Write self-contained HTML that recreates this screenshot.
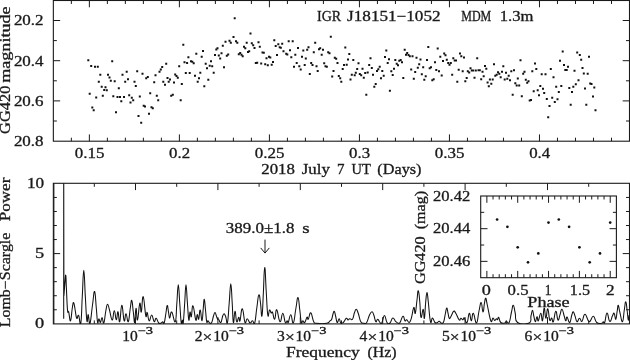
<!DOCTYPE html>
<html lang="en"><head><meta charset="utf-8"><title>IGR J18151-1052 light curve and periodogram</title>
<style>
html,body{margin:0;padding:0;background:#fff;}
body{width:630px;height:360px;overflow:hidden;}
svg{display:block;}
text{font-family:"Liberation Serif", "DejaVu Serif", serif;font-size:14.0px;fill:#1a1a1a;stroke:#1a1a1a;stroke-width:0.3px;}
.ln{stroke:#1a1a1a;stroke-width:1;fill:none;}
.fr{stroke:#1a1a1a;stroke-width:1.1;fill:none;}
.pt{fill:#111;}
.pg{stroke:#111;stroke-width:1.05;fill:none;stroke-linejoin:round;}
</style></head><body>
<svg width="630" height="360" viewBox="0 0 630 360">
<rect width="630" height="360" fill="#fff"/>
<rect class="fr" x="53.35" y="0.5" width="576.15" height="140.7"/>
<path class="ln" d="M71.35 141.2v-3.5M71.35 0.5v3.5M89.36 141.2v-6.8M89.36 0.5v6.8M107.36 141.2v-3.5M107.36 0.5v3.5M125.37 141.2v-3.5M125.37 0.5v3.5M143.37 141.2v-3.5M143.37 0.5v3.5M161.38 141.2v-3.5M161.38 0.5v3.5M179.38 141.2v-6.8M179.38 0.5v6.8M197.39 141.2v-3.5M197.39 0.5v3.5M215.39 141.2v-3.5M215.39 0.5v3.5M233.40 141.2v-3.5M233.40 0.5v3.5M251.40 141.2v-3.5M251.40 0.5v3.5M269.41 141.2v-6.8M269.41 0.5v6.8M287.41 141.2v-3.5M287.41 0.5v3.5M305.42 141.2v-3.5M305.42 0.5v3.5M323.42 141.2v-3.5M323.42 0.5v3.5M341.42 141.2v-3.5M341.42 0.5v3.5M359.43 141.2v-6.8M359.43 0.5v6.8M377.43 141.2v-3.5M377.43 0.5v3.5M395.44 141.2v-3.5M395.44 0.5v3.5M413.44 141.2v-3.5M413.44 0.5v3.5M431.45 141.2v-3.5M431.45 0.5v3.5M449.45 141.2v-6.8M449.45 0.5v6.8M467.46 141.2v-3.5M467.46 0.5v3.5M485.46 141.2v-3.5M485.46 0.5v3.5M503.47 141.2v-3.5M503.47 0.5v3.5M521.47 141.2v-3.5M521.47 0.5v3.5M539.48 141.2v-6.8M539.48 0.5v6.8M557.48 141.2v-3.5M557.48 0.5v3.5M575.49 141.2v-3.5M575.49 0.5v3.5M593.49 141.2v-3.5M593.49 0.5v3.5M611.50 141.2v-3.5M611.50 0.5v3.5M53.35 20.50h6.8M629.5 20.50h-6.8M53.35 40.60h3.5M629.5 40.60h-3.5M53.35 60.70h6.8M629.5 60.70h-6.8M53.35 80.80h3.5M629.5 80.80h-3.5M53.35 100.90h6.8M629.5 100.90h-6.8M53.35 121.00h3.5M629.5 121.00h-3.5"/>
<path class="pt" d="M87.3 59.3h2v2h-2zM88.7 92.8h2v2h-2zM90.2 65.0h2v2h-2zM91.3 106.5h2v2h-2zM92.7 109.2h2v2h-2zM94.0 65.8h2v2h-2zM95.2 96.5h2v2h-2zM96.8 65.8h2v2h-2zM97.8 80.7h2v2h-2zM99.3 73.7h2v2h-2zM100.7 85.7h2v2h-2zM101.8 94.7h2v2h-2zM103.2 89.0h2v2h-2zM104.5 86.2h2v2h-2zM105.8 89.3h2v2h-2zM107.0 73.7h2v2h-2zM108.5 76.5h2v2h-2zM109.8 79.7h2v2h-2zM111.2 60.3h2v2h-2zM112.3 95.2h2v2h-2zM113.7 80.3h2v2h-2zM115.0 111.2h2v2h-2zM116.5 96.0h2v2h-2zM117.8 87.2h2v2h-2zM119.0 96.0h2v2h-2zM120.3 100.2h2v2h-2zM121.5 73.7h2v2h-2zM123.0 96.0h2v2h-2zM124.2 80.8h2v2h-2zM125.7 70.8h2v2h-2zM127.0 78.2h2v2h-2zM128.2 94.2h2v2h-2zM129.5 101.5h2v2h-2zM130.8 96.7h2v2h-2zM132.2 99.3h2v2h-2zM133.5 80.7h2v2h-2zM134.8 85.0h2v2h-2zM136.2 70.2h2v2h-2zM137.5 115.0h2v2h-2zM138.8 95.5h2v2h-2zM140.2 121.7h2v2h-2zM141.5 72.7h2v2h-2zM142.7 104.7h2v2h-2zM144.0 105.5h2v2h-2zM145.2 77.3h2v2h-2zM146.8 76.0h2v2h-2zM148.0 112.7h2v2h-2zM149.2 92.3h2v2h-2zM150.5 106.2h2v2h-2zM151.8 107.3h2v2h-2zM153.2 81.2h2v2h-2zM154.5 74.3h2v2h-2zM155.8 94.7h2v2h-2zM157.2 99.2h2v2h-2zM158.5 70.7h2v2h-2zM159.8 68.4h2v2h-2zM161.2 66.0h2v2h-2zM162.3 80.7h2v2h-2zM164.0 83.7h2v2h-2zM165.2 62.7h2v2h-2zM166.5 77.0h2v2h-2zM167.7 80.7h2v2h-2zM169.0 78.5h2v2h-2zM170.2 94.8h2v2h-2zM171.8 93.8h2v2h-2zM173.0 81.5h2v2h-2zM174.2 73.5h2v2h-2zM175.5 75.0h2v2h-2zM176.8 76.7h2v2h-2zM178.2 65.2h2v2h-2zM179.7 99.3h2v2h-2zM180.8 83.0h2v2h-2zM182.3 43.7h2v2h-2zM183.5 61.3h2v2h-2zM184.8 71.9h2v2h-2zM186.1 62.0h2v2h-2zM187.4 56.3h2v2h-2zM188.7 72.0h2v2h-2zM190.0 60.3h2v2h-2zM191.3 60.7h2v2h-2zM192.7 62.3h2v2h-2zM194.0 74.7h2v2h-2zM195.3 52.7h2v2h-2zM196.7 80.7h2v2h-2zM198.0 77.3h2v2h-2zM199.3 71.7h2v2h-2zM200.7 55.7h2v2h-2zM202.0 50.0h2v2h-2zM203.3 85.3h2v2h-2zM204.7 62.8h2v2h-2zM206.0 67.3h2v2h-2zM207.3 78.7h2v2h-2zM208.7 64.8h2v2h-2zM210.0 60.3h2v2h-2zM211.2 65.3h2v2h-2zM212.7 71.7h2v2h-2zM214.0 54.0h2v2h-2zM215.3 48.5h2v2h-2zM216.5 47.3h2v2h-2zM217.8 54.5h2v2h-2zM219.2 57.5h2v2h-2zM220.5 52.3h2v2h-2zM221.8 44.8h2v2h-2zM223.0 66.2h2v2h-2zM224.5 40.7h2v2h-2zM225.8 54.8h2v2h-2zM227.2 53.5h2v2h-2zM228.5 39.8h2v2h-2zM229.8 41.7h2v2h-2zM232.5 36.0h2v2h-2zM233.7 17.3h2v2h-2zM235.0 40.2h2v2h-2zM236.3 41.7h2v2h-2zM237.8 53.2h2v2h-2zM239.2 52.0h2v2h-2zM240.5 53.7h2v2h-2zM241.7 55.3h2v2h-2zM243.0 45.7h2v2h-2zM244.3 47.3h2v2h-2zM245.7 41.7h2v2h-2zM247.0 51.0h2v2h-2zM248.2 50.2h2v2h-2zM249.5 32.5h2v2h-2zM250.8 42.3h2v2h-2zM252.2 44.2h2v2h-2zM253.5 47.0h2v2h-2zM254.8 62.0h2v2h-2zM256.2 61.7h2v2h-2zM257.5 41.2h2v2h-2zM258.8 45.8h2v2h-2zM260.2 62.5h2v2h-2zM261.5 51.5h2v2h-2zM262.8 51.8h2v2h-2zM264.2 63.3h2v2h-2zM265.5 57.3h2v2h-2zM266.8 64.2h2v2h-2zM268.0 55.7h2v2h-2zM269.3 56.5h2v2h-2zM270.7 63.7h2v2h-2zM272.0 61.0h2v2h-2zM273.3 39.2h2v2h-2zM274.7 45.0h2v2h-2zM276.0 54.0h2v2h-2zM277.3 43.2h2v2h-2zM278.7 46.3h2v2h-2zM279.8 46.8h2v2h-2zM281.2 42.8h2v2h-2zM282.5 50.3h2v2h-2zM285.2 52.7h2v2h-2zM286.3 53.5h2v2h-2zM287.7 40.3h2v2h-2zM289.0 49.3h2v2h-2zM290.3 56.2h2v2h-2zM291.7 40.2h2v2h-2zM293.0 65.7h2v2h-2zM294.3 53.7h2v2h-2zM295.7 62.0h2v2h-2zM297.0 47.0h2v2h-2zM298.3 65.3h2v2h-2zM299.7 68.5h2v2h-2zM301.0 55.8h2v2h-2zM302.3 49.5h2v2h-2zM303.7 64.0h2v2h-2zM304.8 57.5h2v2h-2zM306.2 48.7h2v2h-2zM307.5 46.2h2v2h-2zM308.8 73.0h2v2h-2zM310.2 62.0h2v2h-2zM311.5 64.0h2v2h-2zM312.8 51.2h2v2h-2zM314.2 41.7h2v2h-2zM315.5 65.2h2v2h-2zM316.7 70.0h2v2h-2zM318.0 48.3h2v2h-2zM319.2 47.2h2v2h-2zM320.7 53.7h2v2h-2zM322.0 48.7h2v2h-2zM323.2 62.3h2v2h-2zM324.5 65.3h2v2h-2zM325.8 65.7h2v2h-2zM327.2 51.2h2v2h-2zM328.5 52.3h2v2h-2zM329.8 35.7h2v2h-2zM331.2 75.5h2v2h-2zM332.5 70.0h2v2h-2zM333.8 56.8h2v2h-2zM335.2 57.8h2v2h-2zM336.5 62.0h2v2h-2zM337.8 75.0h2v2h-2zM339.2 77.3h2v2h-2zM340.3 80.8h2v2h-2zM341.7 67.9h2v2h-2zM343.0 64.0h2v2h-2zM344.3 46.5h2v2h-2zM345.7 63.7h2v2h-2zM347.0 58.5h2v2h-2zM348.3 53.0h2v2h-2zM349.5 78.5h2v2h-2zM350.8 73.7h2v2h-2zM352.3 59.0h2v2h-2zM353.7 74.3h2v2h-2zM354.8 71.8h2v2h-2zM356.2 67.9h2v2h-2zM357.5 62.3h2v2h-2zM358.8 73.0h2v2h-2zM360.2 74.3h2v2h-2zM361.5 67.7h2v2h-2zM362.8 76.8h2v2h-2zM364.2 72.0h2v2h-2zM365.3 93.7h2v2h-2zM366.7 71.5h2v2h-2zM368.2 64.0h2v2h-2zM369.5 57.3h2v2h-2zM370.8 67.0h2v2h-2zM372.0 73.8h2v2h-2zM373.3 85.7h2v2h-2zM374.7 83.0h2v2h-2zM376.0 70.0h2v2h-2zM377.3 68.2h2v2h-2zM378.7 65.7h2v2h-2zM380.0 77.3h2v2h-2zM381.3 70.0h2v2h-2zM382.7 74.7h2v2h-2zM384.0 56.0h2v2h-2zM385.3 49.5h2v2h-2zM386.7 62.0h2v2h-2zM388.0 58.2h2v2h-2zM388.9 89.7h2v2h-2zM390.3 70.2h2v2h-2zM391.7 74.0h2v2h-2zM393.0 67.8h2v2h-2zM394.3 59.0h2v2h-2zM395.7 62.8h2v2h-2zM397.0 64.3h2v2h-2zM398.3 59.8h2v2h-2zM399.7 59.0h2v2h-2zM401.0 61.2h2v2h-2zM402.3 77.0h2v2h-2zM403.7 48.8h2v2h-2zM405.0 53.7h2v2h-2zM406.2 52.0h2v2h-2zM407.5 54.0h2v2h-2zM408.8 55.3h2v2h-2zM410.2 68.5h2v2h-2zM411.5 55.2h2v2h-2zM412.8 77.7h2v2h-2zM414.2 71.0h2v2h-2zM415.5 56.7h2v2h-2zM416.8 66.7h2v2h-2zM418.2 63.2h2v2h-2zM419.5 58.5h2v2h-2zM420.8 73.2h2v2h-2zM422.2 66.3h2v2h-2zM423.3 78.7h2v2h-2zM424.7 75.3h2v2h-2zM426.0 59.0h2v2h-2zM427.3 46.0h2v2h-2zM428.7 67.3h2v2h-2zM430.0 66.3h2v2h-2zM431.3 79.3h2v2h-2zM432.7 78.2h2v2h-2zM434.0 61.3h2v2h-2zM435.3 69.0h2v2h-2zM436.7 47.5h2v2h-2zM438.0 70.2h2v2h-2zM439.3 55.7h2v2h-2zM440.7 74.5h2v2h-2zM442.0 60.0h2v2h-2zM443.2 52.5h2v2h-2zM444.5 54.3h2v2h-2zM445.8 58.7h2v2h-2zM447.2 62.0h2v2h-2zM448.5 63.7h2v2h-2zM449.8 62.0h2v2h-2zM451.2 73.7h2v2h-2zM452.3 57.3h2v2h-2zM453.7 59.5h2v2h-2zM455.0 59.5h2v2h-2zM456.3 80.7h2v2h-2zM457.7 68.7h2v2h-2zM459.0 52.5h2v2h-2zM460.3 55.2h2v2h-2zM461.7 70.2h2v2h-2zM463.0 56.5h2v2h-2zM464.3 80.3h2v2h-2zM465.7 77.0h2v2h-2zM466.8 70.2h2v2h-2zM468.2 71.5h2v2h-2zM469.5 67.3h2v2h-2zM470.8 69.5h2v2h-2zM472.2 69.5h2v2h-2zM473.5 76.7h2v2h-2zM474.8 69.5h2v2h-2zM476.2 57.3h2v2h-2zM477.5 69.3h2v2h-2zM478.8 69.3h2v2h-2zM480.2 78.3h2v2h-2zM481.5 70.7h2v2h-2zM482.7 75.3h2v2h-2zM484.0 65.0h2v2h-2zM485.3 67.8h2v2h-2zM486.6 81.5h2v2h-2zM487.8 85.3h2v2h-2zM488.9 78.4h2v2h-2zM490.3 82.7h2v2h-2zM491.7 78.5h2v2h-2zM493.0 63.3h2v2h-2zM494.3 74.8h2v2h-2zM495.7 73.7h2v2h-2zM497.0 71.2h2v2h-2zM498.3 72.7h2v2h-2zM499.7 76.3h2v2h-2zM501.0 70.7h2v2h-2zM502.3 65.3h2v2h-2zM503.7 78.5h2v2h-2zM505.0 71.8h2v2h-2zM506.3 77.7h2v2h-2zM507.7 74.8h2v2h-2zM509.0 79.2h2v2h-2zM510.3 70.2h2v2h-2zM511.7 93.7h2v2h-2zM513.0 69.2h2v2h-2zM514.3 82.3h2v2h-2zM515.7 84.5h2v2h-2zM516.8 77.5h2v2h-2zM518.2 84.5h2v2h-2zM519.5 59.2h2v2h-2zM520.8 95.3h2v2h-2zM522.2 72.8h2v2h-2zM523.5 70.8h2v2h-2zM524.8 78.7h2v2h-2zM526.2 81.8h2v2h-2zM527.5 80.3h2v2h-2zM528.7 99.5h2v2h-2zM530.0 99.0h2v2h-2zM531.3 70.3h2v2h-2zM532.7 90.3h2v2h-2zM534.0 62.5h2v2h-2zM535.3 68.0h2v2h-2zM536.7 89.3h2v2h-2zM538.0 94.3h2v2h-2zM539.3 85.0h2v2h-2zM540.7 73.3h2v2h-2zM542.0 87.7h2v2h-2zM543.2 92.0h2v2h-2zM544.5 73.3h2v2h-2zM545.8 98.0h2v2h-2zM547.2 116.3h2v2h-2zM548.5 105.0h2v2h-2zM549.8 68.0h2v2h-2zM551.2 96.7h2v2h-2zM552.5 76.2h2v2h-2zM553.8 101.0h2v2h-2zM555.2 85.8h2v2h-2zM556.5 98.3h2v2h-2zM557.8 91.0h2v2h-2zM559.0 59.7h2v2h-2zM560.3 85.0h2v2h-2zM561.7 50.5h2v2h-2zM563.0 64.0h2v2h-2zM564.3 69.0h2v2h-2zM565.7 69.0h2v2h-2zM567.0 65.8h2v2h-2zM568.3 87.0h2v2h-2zM569.7 103.8h2v2h-2zM571.0 91.0h2v2h-2zM572.3 85.7h2v2h-2zM573.5 69.7h2v2h-2zM574.8 83.3h2v2h-2zM576.2 51.5h2v2h-2zM577.5 79.2h2v2h-2zM578.8 54.0h2v2h-2zM580.2 58.7h2v2h-2zM581.5 67.0h2v2h-2zM582.8 72.4h2v2h-2zM584.0 87.4h2v2h-2zM585.3 103.8h2v2h-2zM586.7 72.8h2v2h-2zM588.0 55.8h2v2h-2zM589.2 82.4h2v2h-2zM590.5 83.0h2v2h-2zM592.0 95.5h2v2h-2zM593.3 86.5h2v2h-2zM594.5 109.3h2v2h-2z"/>
<text x="13.9" y="25.3" textLength="29.7" lengthAdjust="spacingAndGlyphs">20.2</text>
<text x="13.9" y="65.5" textLength="29.7" lengthAdjust="spacingAndGlyphs">20.4</text>
<text x="13.9" y="105.7" textLength="29.7" lengthAdjust="spacingAndGlyphs">20.6</text>
<text x="13.9" y="145.9" textLength="29.7" lengthAdjust="spacingAndGlyphs">20.8</text>
<text x="74.7" y="158.3" textLength="29.7" lengthAdjust="spacingAndGlyphs">0.15</text>
<text x="169.1" y="158.3" textLength="21.0" lengthAdjust="spacingAndGlyphs">0.2</text>
<text x="254.8" y="158.3" textLength="29.7" lengthAdjust="spacingAndGlyphs">0.25</text>
<text x="349.1" y="158.3" textLength="21.0" lengthAdjust="spacingAndGlyphs">0.3</text>
<text x="434.8" y="158.3" textLength="29.7" lengthAdjust="spacingAndGlyphs">0.35</text>
<text x="529.2" y="158.3" textLength="21.0" lengthAdjust="spacingAndGlyphs">0.4</text>
<text y="174.3"><tspan x="261.3" textLength="33.6" lengthAdjust="spacingAndGlyphs">2018</tspan> <tspan x="301.8" textLength="28.1" lengthAdjust="spacingAndGlyphs">July</tspan> <tspan x="337.0" textLength="7.5" lengthAdjust="spacingAndGlyphs">7</tspan> <tspan x="351.5" textLength="19.1" lengthAdjust="spacingAndGlyphs">UT</tspan> <tspan x="377.3" textLength="44.2" lengthAdjust="spacingAndGlyphs">(Days)</tspan></text>
<text transform="translate(10.4,0) rotate(-90)" y="0"><tspan x="-133.9" textLength="48.3" lengthAdjust="spacingAndGlyphs">GG420</tspan> <tspan x="-82.8" textLength="76.4" lengthAdjust="spacingAndGlyphs">magnitude</tspan></text>
<text y="20.7"><tspan x="317.1" textLength="24.1" lengthAdjust="spacingAndGlyphs">IGR</tspan> <tspan x="347.1" textLength="93.5" lengthAdjust="spacingAndGlyphs">J18151&#8722;1052</tspan> <tspan x="461.3" textLength="30.0" lengthAdjust="spacingAndGlyphs">MDM</tspan> <tspan x="499.8" textLength="33.7" lengthAdjust="spacingAndGlyphs">1.3m</tspan></text>
<clipPath id="c2"><rect x="53.35" y="183.3" width="576.15" height="140.59999999999997"/></clipPath>
<path class="pg" clip-path="url(#c2)" d="M63.7 318.7L63.7 150L63.9 296L63.9 296.0C64.1 293.0 64.5 287.8 64.9 283.0C65.3 278.2 65.5 274.1 65.8 275.3C66.1 276.5 66.0 279.9 66.4 288.0C66.8 296.1 67.0 304.4 67.5 310.0C68.0 315.6 68.0 309.5 68.7 312.0C69.4 314.5 69.7 321.7 70.5 320.8C71.3 319.9 71.6 312.3 72.3 308.0C73.0 303.7 73.0 302.3 73.6 302.5C74.2 302.7 74.3 305.3 75.0 309.0C75.7 312.7 75.9 316.8 76.7 318.3C77.5 319.8 77.6 314.3 78.6 315.4C79.6 316.5 79.9 327.7 80.8 323.2C81.7 318.7 81.6 308.3 82.3 296.0C83.0 283.7 83.1 270.3 83.8 270.3C84.5 270.3 84.6 284.2 85.3 296.0C86.0 307.8 86.2 316.4 86.9 320.8C87.6 325.2 87.5 314.1 88.2 314.7C88.9 315.3 89.0 325.5 90.0 323.2C91.0 320.9 91.4 312.4 92.5 305.0C93.6 297.6 93.7 290.8 94.6 291.5C95.5 292.2 95.6 300.8 96.3 308.0C97.0 315.2 97.0 320.0 97.6 322.5C98.2 325.0 98.2 318.7 98.9 318.7C99.6 318.7 99.7 322.8 100.4 322.5C101.1 322.2 101.3 317.4 102.1 317.5C102.9 317.6 102.9 324.5 103.8 323.0C104.7 321.5 104.9 315.4 105.8 311.0C106.7 306.6 106.6 304.5 107.5 304.3C108.4 304.1 108.4 306.3 109.5 310.0C110.6 313.7 111.1 319.8 112.2 320.0C113.3 320.2 113.3 310.9 114.3 310.8C115.3 310.7 115.4 319.5 116.3 319.7C117.2 319.9 117.2 311.2 118.0 311.7C118.8 312.2 118.8 323.2 119.7 321.7C120.6 320.2 120.8 305.5 121.8 305.3C122.8 305.1 123.2 318.8 124.2 320.8C125.2 322.8 125.0 313.6 126.0 313.8C127.0 314.0 127.3 323.1 128.3 321.7C129.3 320.3 129.5 312.9 130.3 308.0C131.1 303.1 131.1 299.6 131.8 300.5C132.5 301.4 132.6 306.9 133.3 312.0C134.0 317.1 134.1 323.4 134.7 322.5C135.3 321.6 135.3 308.9 136.0 308.3C136.7 307.7 136.6 321.2 137.5 320.0C138.4 318.8 138.9 305.2 139.8 303.3C140.7 301.4 140.5 313.5 141.3 312.0C142.1 310.5 142.1 295.8 143.2 296.7C144.2 297.6 144.9 312.1 145.8 315.8C146.7 319.5 146.4 311.3 147.2 312.5C148.0 313.7 148.1 320.2 149.2 320.8C150.2 321.4 150.5 314.8 151.7 315.0C152.9 315.2 153.1 320.9 154.2 321.7C155.2 322.5 155.1 318.0 156.2 318.3C157.2 318.6 157.5 321.9 158.7 323.0C159.9 324.1 160.4 323.3 161.3 323.0C162.2 322.7 162.0 321.7 162.7 321.7C163.4 321.7 163.5 324.8 164.2 323.0C164.9 321.2 165.1 318.1 165.8 314.0C166.5 309.9 166.6 306.0 167.2 305.5C167.8 305.0 167.9 309.0 168.5 312.0C169.1 315.0 169.0 318.3 169.7 318.3C170.4 318.3 170.4 311.2 171.7 312.0C173.0 312.8 174.1 323.6 175.3 321.7C176.5 319.8 176.1 312.6 176.8 304.0C177.5 295.4 177.6 284.7 178.3 284.7C179.0 284.7 179.1 295.2 179.8 304.0C180.5 312.8 180.6 318.8 181.2 322.5C181.8 326.2 182.0 320.0 182.5 320.0C183.0 320.0 182.8 326.5 183.3 322.5C183.8 318.5 184.1 311.8 184.7 303.0C185.3 294.2 185.4 284.7 186.0 284.7C186.6 284.7 186.7 294.8 187.4 303.0C188.1 311.2 188.2 317.9 188.8 320.0C189.4 322.1 189.4 312.8 190.0 312.0C190.6 311.2 190.6 318.1 191.3 316.7C192.0 315.3 191.9 305.0 193.0 305.8C194.1 306.6 194.8 318.0 195.8 320.0C196.8 322.0 196.5 314.7 197.2 314.5C197.9 314.3 198.0 320.2 198.7 319.2C199.4 318.1 199.4 309.6 200.2 310.0C201.0 310.4 201.3 321.0 202.0 320.8C202.7 320.6 202.7 314.0 203.2 309.0C203.7 304.0 203.8 299.0 204.3 299.2C204.8 299.4 204.9 304.8 205.5 310.0C206.1 315.2 206.1 319.2 206.7 321.7C207.3 324.2 207.3 320.5 208.0 320.8C208.7 321.1 208.8 322.6 209.7 323.0C210.6 323.4 210.8 324.1 211.7 322.5C212.6 320.9 212.7 318.3 213.5 316.0C214.3 313.7 214.3 312.5 215.0 312.5C215.7 312.5 215.8 314.4 216.4 316.0C217.0 317.6 217.0 318.5 217.5 319.2C218.0 319.9 217.7 318.2 218.5 319.0C219.3 319.8 219.8 323.2 220.8 322.5C221.8 321.8 221.9 318.0 222.7 316.0C223.5 314.0 223.5 313.6 224.2 313.8C224.9 314.0 225.0 315.0 225.8 317.0C226.6 319.0 226.7 325.8 227.5 322.5C228.3 319.2 228.4 312.1 229.2 303.0C230.0 293.9 230.1 283.7 230.8 283.7C231.5 283.7 231.6 293.9 232.2 303.0C232.8 312.1 232.7 320.6 233.4 322.5C234.1 324.4 234.2 311.5 235.0 311.3C235.8 311.1 235.8 320.3 236.7 321.7C237.6 323.1 237.9 317.4 238.7 317.2C239.5 317.0 239.2 322.8 240.0 320.8C240.8 318.8 241.1 308.4 242.3 308.8C243.5 309.2 243.9 320.2 245.0 322.5C246.1 324.8 246.0 318.6 247.2 318.7C248.4 318.8 248.8 322.5 250.0 323.0C251.2 323.5 251.4 320.8 252.5 320.8C253.6 320.8 253.7 326.0 254.7 323.0C255.7 320.0 255.8 314.5 256.8 308.0C257.8 301.5 257.9 296.2 258.8 295.0C259.7 293.8 259.8 298.1 260.5 303.0C261.2 307.9 261.3 318.4 262.0 315.8C262.7 313.2 262.8 303.3 263.4 292.0C264.0 280.7 264.0 267.7 264.7 267.5C265.4 267.3 265.5 279.9 266.2 291.0C266.9 302.1 267.0 310.6 267.8 315.0C268.6 319.4 268.7 310.5 269.5 310.0C270.3 309.5 270.5 312.5 271.2 313.0C271.9 313.5 271.7 310.8 272.5 312.2C273.3 313.6 273.7 319.8 274.7 319.2C275.7 318.6 275.5 309.1 276.7 309.7C277.9 310.3 278.6 320.9 280.0 321.7C281.4 322.5 281.6 313.1 282.8 313.3C284.0 313.5 284.3 320.8 285.3 322.5C286.3 324.2 286.5 320.8 287.2 320.8C287.9 320.8 287.5 323.9 288.3 322.5C289.1 321.1 289.6 314.6 290.8 314.7C292.0 314.8 292.1 324.3 293.3 323.0C294.5 321.7 294.7 314.9 295.8 309.0C296.9 303.1 297.1 297.3 298.0 297.5C298.9 297.7 299.0 304.2 299.8 310.0C300.6 315.8 300.6 320.0 301.3 322.5C302.0 325.0 302.0 320.8 302.8 320.8C303.6 320.8 303.7 323.3 304.7 322.5C305.7 321.7 306.2 318.0 307.0 317.2C307.8 316.4 307.4 320.2 308.3 319.2C309.2 318.2 309.5 312.2 310.8 312.8C312.1 313.4 312.3 319.2 313.7 321.7C315.1 324.1 313.7 322.9 316.7 323.3C319.7 323.7 323.6 323.9 326.7 323.3C329.8 322.7 328.8 321.8 330.0 320.8C331.2 319.8 331.0 320.8 331.7 319.2C332.4 317.6 332.4 315.8 333.0 314.0C333.6 312.2 333.7 310.8 334.3 311.3C334.9 311.8 334.9 313.4 335.6 316.0C336.3 318.6 336.4 321.9 337.2 322.5C338.0 323.1 338.4 318.6 339.2 318.7C340.0 318.8 339.8 322.1 340.8 323.0C341.8 323.9 342.0 323.6 343.3 322.5C344.6 321.4 345.2 318.9 346.3 318.3C347.4 317.7 347.2 319.9 348.0 320.0C348.8 320.1 348.6 318.9 349.7 318.7C350.8 318.5 351.4 320.6 352.5 319.2C353.6 317.8 353.6 314.8 354.5 312.5C355.4 310.2 355.4 309.0 356.3 309.2C357.2 309.4 357.2 310.6 358.3 313.5C359.4 316.4 359.4 319.4 360.8 321.7C362.2 324.0 362.8 323.1 364.2 323.3C365.6 323.5 365.5 324.4 366.7 322.5C367.9 320.6 368.3 317.5 369.5 315.0C370.7 312.5 371.0 311.7 372.0 311.7C373.0 311.7 372.9 312.7 373.8 315.0C374.7 317.3 374.9 320.7 375.8 321.7C376.7 322.7 376.7 319.0 377.7 319.2C378.7 319.4 379.1 321.6 380.0 322.5C380.9 323.4 380.6 324.6 381.7 323.0C382.8 321.4 383.3 315.6 384.5 315.5C385.7 315.4 385.7 320.8 387.0 322.5C388.3 324.2 388.6 324.1 390.0 323.0C391.4 321.9 391.4 318.3 392.8 318.0C394.2 317.7 394.5 320.5 395.8 321.7C397.1 322.9 397.3 323.0 398.3 323.2C399.3 323.4 398.9 324.1 400.0 322.5C401.1 320.9 401.8 316.7 403.0 316.3C404.2 315.9 404.1 320.0 405.0 320.8C405.9 321.6 405.7 319.3 406.7 319.7C407.7 320.1 408.1 322.8 409.2 322.5C410.3 322.2 410.2 321.8 411.3 318.3C412.4 314.8 412.9 308.7 413.8 307.5C414.7 306.3 414.6 315.1 415.3 313.3C416.0 311.6 416.3 305.2 417.0 300.0C417.7 294.8 417.6 290.3 418.3 290.8C419.0 291.3 419.2 295.8 419.8 302.0C420.4 308.2 420.2 315.6 421.0 317.3C421.8 319.0 422.4 309.1 423.2 309.3C424.0 309.5 423.8 320.0 424.4 318.3C425.0 316.6 425.1 308.0 425.7 302.0C426.3 296.0 426.4 292.5 427.0 292.5C427.6 292.5 427.5 295.2 428.3 302.0C429.1 308.8 429.5 318.0 430.5 321.7C431.5 325.4 431.4 317.8 432.5 318.0C433.6 318.2 433.8 321.4 435.0 322.5C436.2 323.6 436.5 322.8 437.5 322.5C438.5 322.2 438.2 321.1 439.2 321.3C440.2 321.5 440.6 323.2 441.7 323.3C442.8 323.4 442.9 323.9 443.7 321.7C444.5 319.5 444.6 317.2 445.3 314.0C446.0 310.8 446.1 308.2 446.7 308.0C447.3 307.8 447.4 310.6 448.0 313.0C448.6 315.4 448.5 317.4 449.2 318.3C449.9 319.2 449.8 318.3 450.8 316.7C451.9 315.1 452.5 312.1 453.7 311.3C454.9 310.5 454.5 311.3 455.8 313.3C457.1 315.3 458.0 318.8 459.2 320.0C460.4 321.2 459.9 318.4 460.8 318.3C461.7 318.2 462.2 319.8 463.0 319.7C463.8 319.6 463.3 317.3 464.2 318.0C465.1 318.7 465.8 323.6 467.0 322.5C468.2 321.4 468.3 313.7 469.3 313.3C470.3 312.9 470.4 320.8 471.3 320.8C472.2 320.8 472.1 312.8 473.3 313.3C474.5 313.8 475.2 323.5 476.5 323.0C477.8 322.5 477.9 315.8 479.0 311.0C480.1 306.2 480.3 302.3 481.2 302.5C482.1 302.7 482.2 311.9 483.0 312.0C483.8 312.1 483.8 306.2 484.5 303.0C485.2 299.8 485.1 297.8 485.8 298.3C486.5 298.8 486.1 299.8 487.3 305.0C488.5 310.2 489.5 317.8 490.8 320.8C492.1 323.8 492.1 318.1 493.0 318.0C493.9 317.9 493.9 320.3 494.7 320.5C495.5 320.7 495.6 318.9 496.3 318.7C497.0 318.5 496.9 320.0 497.5 319.7C498.1 319.4 497.9 316.8 498.7 317.5C499.5 318.2 499.3 321.2 500.8 322.5C502.3 323.8 503.7 323.3 505.0 323.0C506.3 322.7 505.3 321.4 506.3 321.3C507.3 321.2 508.0 324.7 509.2 322.5C510.4 320.3 510.5 316.0 511.5 312.0C512.5 308.0 512.4 305.1 513.3 305.3C514.2 305.5 514.2 309.0 515.2 313.0C516.2 317.0 514.2 320.2 517.5 322.5C520.8 324.8 526.1 324.5 529.2 323.0C532.4 321.5 530.2 319.0 531.0 316.0C531.8 313.0 531.8 310.3 532.5 310.3C533.2 310.3 533.1 313.3 533.8 316.0C534.5 318.7 534.6 321.5 535.3 321.7C536.0 321.9 536.3 316.9 537.0 316.7C537.7 316.5 537.4 321.6 538.3 320.8C539.2 320.0 539.8 313.3 540.8 313.3C541.8 313.3 541.7 322.0 542.5 320.8C543.3 319.6 543.4 308.6 544.2 308.0C545.0 307.4 545.0 318.1 545.8 318.3C546.6 318.5 546.9 308.3 547.8 308.7C548.7 309.1 548.8 317.8 549.7 320.0C550.6 322.2 550.9 317.6 551.7 318.0C552.5 318.4 552.3 323.3 553.3 321.7C554.3 320.1 554.7 311.6 555.8 311.2C556.9 310.8 557.0 319.2 558.0 320.0C559.0 320.8 559.1 317.3 560.0 314.8C560.9 312.3 561.0 308.9 562.0 309.2C563.0 309.5 563.3 313.3 564.2 316.0C565.1 318.7 565.1 320.6 565.8 320.8C566.5 321.0 566.1 316.6 567.0 317.0C567.9 317.4 568.6 323.0 569.7 322.5C570.8 322.0 571.0 317.5 571.8 315.0C572.6 312.5 572.6 311.5 573.3 311.7C574.0 311.9 574.1 313.7 575.0 316.0C575.9 318.3 576.0 321.2 577.0 321.7C578.0 322.2 578.3 318.4 579.5 318.3C580.7 318.2 580.7 322.3 582.0 321.3C583.3 320.3 583.3 314.1 585.0 314.2C586.7 314.3 587.3 321.2 589.2 321.7C591.1 322.2 591.5 316.1 593.3 316.3C595.0 316.5 594.7 320.9 596.7 322.5C598.7 324.1 600.2 323.5 601.7 323.3C603.2 323.1 602.6 321.9 603.3 321.7C604.0 321.5 603.8 324.5 604.7 322.5C605.6 320.5 605.8 313.3 607.0 313.0C608.2 312.7 608.4 320.6 609.7 321.3C611.0 322.0 611.5 317.7 612.5 315.8C613.5 313.9 613.4 312.5 614.2 313.3C615.0 314.1 615.1 319.7 615.8 319.2C616.5 318.7 616.6 314.2 617.2 311.0C617.8 307.8 617.7 305.1 618.3 305.3C618.9 305.5 618.8 308.2 619.8 312.0C620.8 315.8 621.5 322.2 622.5 321.7C623.5 321.2 623.5 314.7 624.3 310.0C625.1 305.3 625.1 301.5 625.8 301.7C626.5 301.9 626.6 306.7 627.2 311.0C627.8 315.3 627.8 319.1 628.3 320.0C628.8 320.9 629.0 316.2 629.2 315.0"/>
<rect class="fr" x="53.35" y="183.3" width="576.15" height="140.59999999999997"/>
<line class="ln" x1="53.9" y1="183.3" x2="53.9" y2="323.9" stroke-width="1"/>
<path class="ln" d="M94.30 323.9v-3.5M94.30 183.3v3.5M135.50 323.9v-6.8M135.50 183.3v6.8M176.70 323.9v-3.5M176.70 183.3v3.5M217.90 323.9v-6.8M217.90 183.3v6.8M259.10 323.9v-3.5M259.10 183.3v3.5M300.30 323.9v-6.8M300.30 183.3v6.8M341.50 323.9v-3.5M341.50 183.3v3.5M382.70 323.9v-6.8M382.70 183.3v6.8M423.90 323.9v-3.5M423.90 183.3v3.5M465.10 323.9v-6.8M465.10 183.3v6.8M506.30 323.9v-3.5M506.30 183.3v3.5M547.50 323.9v-6.8M547.50 183.3v6.8M588.70 323.9v-3.5M588.70 183.3v3.5M53.35 309.76h3.5M629.5 309.76h-3.5M53.35 295.72h3.5M629.5 295.72h-3.5M53.35 281.68h3.5M629.5 281.68h-3.5M53.35 267.64h3.5M629.5 267.64h-3.5M53.35 253.60h6.8M629.5 253.60h-6.8M53.35 239.56h3.5M629.5 239.56h-3.5M53.35 225.52h3.5M629.5 225.52h-3.5M53.35 211.48h3.5M629.5 211.48h-3.5M53.35 197.44h3.5M629.5 197.44h-3.5"/>
<text x="26.9" y="187.8" textLength="17.2" lengthAdjust="spacingAndGlyphs">10</text>
<text x="34.9" y="258.4" textLength="9.2" lengthAdjust="spacingAndGlyphs">5</text>
<text x="34.9" y="328.4" textLength="9.2" lengthAdjust="spacingAndGlyphs">0</text>
<text x="122.3" y="340.5" textLength="15.5" lengthAdjust="spacingAndGlyphs">10</text>
<text x="137.7" y="334.3" textLength="15.4" lengthAdjust="spacingAndGlyphs" style="font-size:9.6px">&#8722;3</text>
<text x="194.7" y="340.5" textLength="7.8" lengthAdjust="spacingAndGlyphs">2</text>
<text x="202.6" y="341.7" textLength="9.8" lengthAdjust="spacingAndGlyphs">&#215;</text>
<text x="213.3" y="340.5" textLength="15.5" lengthAdjust="spacingAndGlyphs">10</text>
<text x="228.7" y="334.3" textLength="15.4" lengthAdjust="spacingAndGlyphs" style="font-size:9.6px">&#8722;3</text>
<text x="277.0" y="340.5" textLength="7.8" lengthAdjust="spacingAndGlyphs">3</text>
<text x="284.9" y="341.7" textLength="9.8" lengthAdjust="spacingAndGlyphs">&#215;</text>
<text x="295.6" y="340.5" textLength="15.5" lengthAdjust="spacingAndGlyphs">10</text>
<text x="311.0" y="334.3" textLength="15.4" lengthAdjust="spacingAndGlyphs" style="font-size:9.6px">&#8722;3</text>
<text x="359.6" y="340.5" textLength="7.8" lengthAdjust="spacingAndGlyphs">4</text>
<text x="367.5" y="341.7" textLength="9.8" lengthAdjust="spacingAndGlyphs">&#215;</text>
<text x="378.2" y="340.5" textLength="15.5" lengthAdjust="spacingAndGlyphs">10</text>
<text x="393.6" y="334.3" textLength="15.4" lengthAdjust="spacingAndGlyphs" style="font-size:9.6px">&#8722;3</text>
<text x="441.9" y="340.5" textLength="7.8" lengthAdjust="spacingAndGlyphs">5</text>
<text x="449.8" y="341.7" textLength="9.8" lengthAdjust="spacingAndGlyphs">&#215;</text>
<text x="460.5" y="340.5" textLength="15.5" lengthAdjust="spacingAndGlyphs">10</text>
<text x="475.9" y="334.3" textLength="15.4" lengthAdjust="spacingAndGlyphs" style="font-size:9.6px">&#8722;3</text>
<text x="524.6" y="340.5" textLength="7.8" lengthAdjust="spacingAndGlyphs">6</text>
<text x="532.5" y="341.7" textLength="9.8" lengthAdjust="spacingAndGlyphs">&#215;</text>
<text x="543.2" y="340.5" textLength="15.5" lengthAdjust="spacingAndGlyphs">10</text>
<text x="558.6" y="334.3" textLength="15.4" lengthAdjust="spacingAndGlyphs" style="font-size:9.6px">&#8722;3</text>
<text y="356.7"><tspan x="286.1" textLength="73.5" lengthAdjust="spacingAndGlyphs">Frequency</tspan> <tspan x="367.4" textLength="29.1" lengthAdjust="spacingAndGlyphs">(Hz)</tspan></text>
<text transform="translate(10.4,0) rotate(-90)" y="0"><tspan x="-327.3" textLength="94.7" lengthAdjust="spacingAndGlyphs">Lomb&#8722;Scargle</tspan> <tspan x="-221.2" textLength="43.5" lengthAdjust="spacingAndGlyphs">Power</tspan></text>
<text y="232.5"><tspan x="225.8" textLength="68.7" lengthAdjust="spacingAndGlyphs">389.0&#177;1.8</tspan> <tspan x="302.2" textLength="7.4" lengthAdjust="spacingAndGlyphs">s</tspan></text>
<path class="ln" d="M265 239.6V253M260.7 247.9L265 253.1L269.3 247.9"/>
<rect x="480.7" y="196.0" width="135.7" height="81.69999999999999" fill="#fff"/>
<rect class="fr" x="480.7" y="196.0" width="135.7" height="81.69999999999999"/>
<path class="ln" d="M486.87 277.7v-6.8M486.87 196.0v6.8M493.04 277.7v-3.5M493.04 196.0v3.5M499.20 277.7v-3.5M499.20 196.0v3.5M505.37 277.7v-3.5M505.37 196.0v3.5M511.54 277.7v-3.5M511.54 196.0v3.5M517.71 277.7v-6.8M517.71 196.0v6.8M523.88 277.7v-3.5M523.88 196.0v3.5M530.05 277.7v-3.5M530.05 196.0v3.5M536.21 277.7v-3.5M536.21 196.0v3.5M542.38 277.7v-3.5M542.38 196.0v3.5M548.55 277.7v-6.8M548.55 196.0v6.8M554.72 277.7v-3.5M554.72 196.0v3.5M560.89 277.7v-3.5M560.89 196.0v3.5M567.05 277.7v-3.5M567.05 196.0v3.5M573.22 277.7v-3.5M573.22 196.0v3.5M579.39 277.7v-6.8M579.39 196.0v6.8M585.56 277.7v-3.5M585.56 196.0v3.5M591.73 277.7v-3.5M591.73 196.0v3.5M597.90 277.7v-3.5M597.90 196.0v3.5M604.06 277.7v-3.5M604.06 196.0v3.5M610.23 277.7v-6.8M610.23 196.0v6.8M480.7 212.34h3.5M616.4 212.34h-3.5M480.7 228.68h6.8M616.4 228.68h-6.8M480.7 245.02h3.5M616.4 245.02h-3.5M480.7 261.36h6.8M616.4 261.36h-6.8"/>
<circle class="pt" cx="497.1" cy="219.5" r="1.35"/>
<circle class="pt" cx="507.4" cy="226.8" r="1.35"/>
<circle class="pt" cx="517.7" cy="247.3" r="1.35"/>
<circle class="pt" cx="528.0" cy="262.3" r="1.35"/>
<circle class="pt" cx="538.3" cy="253.4" r="1.35"/>
<circle class="pt" cx="548.5" cy="222.6" r="1.35"/>
<circle class="pt" cx="558.8" cy="219.5" r="1.35"/>
<circle class="pt" cx="569.1" cy="226.8" r="1.35"/>
<circle class="pt" cx="579.4" cy="247.3" r="1.35"/>
<circle class="pt" cx="589.7" cy="262.3" r="1.35"/>
<circle class="pt" cx="600.0" cy="253.4" r="1.35"/>
<circle class="pt" cx="610.2" cy="222.6" r="1.35"/>
<text x="433.0" y="200.6" textLength="37.3" lengthAdjust="spacingAndGlyphs">20.42</text>
<text x="433.0" y="233.3" textLength="37.3" lengthAdjust="spacingAndGlyphs">20.44</text>
<text x="433.0" y="266.0" textLength="37.3" lengthAdjust="spacingAndGlyphs">20.46</text>
<text x="481.8" y="295.3" textLength="9.1" lengthAdjust="spacingAndGlyphs">0</text>
<text x="507.6" y="295.3" textLength="20.9" lengthAdjust="spacingAndGlyphs">0.5</text>
<text x="544.7" y="295.3" textLength="6.7" lengthAdjust="spacingAndGlyphs">1</text>
<text x="569.8" y="295.3" textLength="20.2" lengthAdjust="spacingAndGlyphs">1.5</text>
<text x="606.0" y="295.3" textLength="8.6" lengthAdjust="spacingAndGlyphs">2</text>
<text x="527.3" y="307.0" textLength="42.3" lengthAdjust="spacingAndGlyphs">Phase</text>
<text transform="translate(424.8,0) rotate(-90)" y="0"><tspan x="-284.1" textLength="47.8" lengthAdjust="spacingAndGlyphs">GG420</tspan> <tspan x="-229.3" textLength="38.5" lengthAdjust="spacingAndGlyphs">(mag)</tspan></text>
</svg></body></html>
